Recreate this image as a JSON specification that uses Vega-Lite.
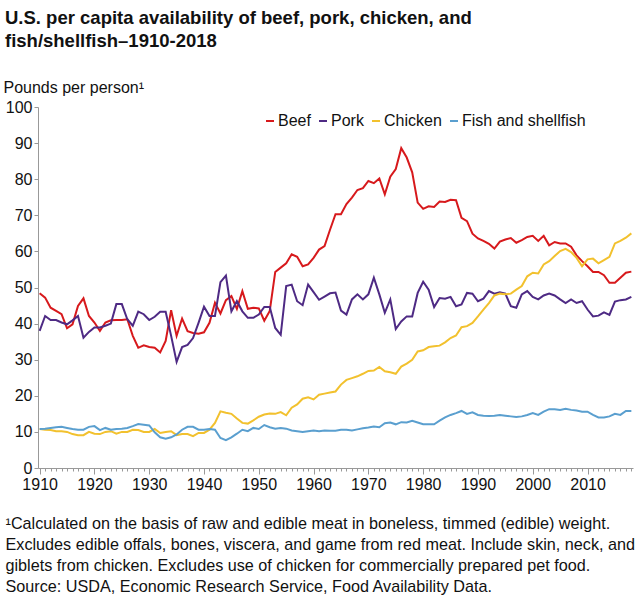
{
  "$schema": "https://vega.github.io/schema/vega-lite/v6.json",
  "autosize": "none",
  "width": 595,
  "height": 361,
  "padding": {"left": 38, "top": 107, "right": 7, "bottom": 142},
  "background": "white",
  "title": {
    "text": ["U.S. per capita availability of beef, pork, chicken, and", "fish/shellfish\u20131910-2018"],
    "anchor": "start",
    "frame": "group",
    "dx": -33,
    "offset": 29,
    "fontSize": 18.5,
    "fontWeight": "bold",
    "lineHeight": 23,
    "color": "#111"
  },
  "data": {
    "values": [
      {"year": 1910, "Beef": 48.4, "Pork": 38, "Chicken": 10.8, "Fish and shellfish": 10.8},
      {"year": 1911, "Beef": 47.2, "Pork": 42.1, "Chicken": 10.6, "Fish and shellfish": 10.9},
      {"year": 1912, "Beef": 44.4, "Pork": 41, "Chicken": 10.5, "Fish and shellfish": 11.1},
      {"year": 1913, "Beef": 43.5, "Pork": 41, "Chicken": 10.2, "Fish and shellfish": 11.3},
      {"year": 1914, "Beef": 42.6, "Pork": 40.3, "Chicken": 10.2, "Fish and shellfish": 11.4},
      {"year": 1915, "Beef": 38.7, "Pork": 39.8, "Chicken": 10, "Fish and shellfish": 11.1},
      {"year": 1916, "Beef": 39.8, "Pork": 40.9, "Chicken": 9.4, "Fish and shellfish": 10.8},
      {"year": 1917, "Beef": 44.9, "Pork": 42.1, "Chicken": 9.1, "Fish and shellfish": 10.6},
      {"year": 1918, "Beef": 47, "Pork": 36.1, "Chicken": 9.1, "Fish and shellfish": 10.6},
      {"year": 1919, "Beef": 42.1, "Pork": 37.7, "Chicken": 10, "Fish and shellfish": 11.4},
      {"year": 1920, "Beef": 40.3, "Pork": 38.9, "Chicken": 9.5, "Fish and shellfish": 11.6},
      {"year": 1921, "Beef": 38, "Pork": 38.9, "Chicken": 9.4, "Fish and shellfish": 10.5},
      {"year": 1922, "Beef": 40.3, "Pork": 39.4, "Chicken": 10, "Fish and shellfish": 11.1},
      {"year": 1923, "Beef": 40.9, "Pork": 40, "Chicken": 10.2, "Fish and shellfish": 10.6},
      {"year": 1924, "Beef": 41, "Pork": 45.4, "Chicken": 9.5, "Fish and shellfish": 10.8},
      {"year": 1925, "Beef": 41, "Pork": 45.4, "Chicken": 10, "Fish and shellfish": 10.9},
      {"year": 1926, "Beef": 41.2, "Pork": 41.2, "Chicken": 10, "Fish and shellfish": 11.1},
      {"year": 1927, "Beef": 36.6, "Pork": 39.4, "Chicken": 10.6, "Fish and shellfish": 11.6},
      {"year": 1928, "Beef": 33.3, "Pork": 43.3, "Chicken": 10.5, "Fish and shellfish": 12.2},
      {"year": 1929, "Beef": 34, "Pork": 42.6, "Chicken": 10, "Fish and shellfish": 12},
      {"year": 1930, "Beef": 33.5, "Pork": 41, "Chicken": 10, "Fish and shellfish": 11.8},
      {"year": 1931, "Beef": 33.3, "Pork": 41.9, "Chicken": 10.8, "Fish and shellfish": 9.9},
      {"year": 1932, "Beef": 32, "Pork": 43.3, "Chicken": 9.7, "Fish and shellfish": 8.5},
      {"year": 1933, "Beef": 35.2, "Pork": 43.3, "Chicken": 10, "Fish and shellfish": 8.1},
      {"year": 1934, "Beef": 43.7, "Pork": 36.6, "Chicken": 10.2, "Fish and shellfish": 8.5},
      {"year": 1935, "Beef": 36.6, "Pork": 29.4, "Chicken": 9.1, "Fish and shellfish": 9.3},
      {"year": 1936, "Beef": 41.4, "Pork": 33.5, "Chicken": 9.4, "Fish and shellfish": 10.6},
      {"year": 1937, "Beef": 37.9, "Pork": 34.1, "Chicken": 9.4, "Fish and shellfish": 11.4},
      {"year": 1938, "Beef": 37.4, "Pork": 36, "Chicken": 8.8, "Fish and shellfish": 11.4},
      {"year": 1939, "Beef": 37.2, "Pork": 40.2, "Chicken": 9.7, "Fish and shellfish": 10.6},
      {"year": 1940, "Beef": 37.6, "Pork": 44.7, "Chicken": 9.7, "Fish and shellfish": 10.6},
      {"year": 1941, "Beef": 40.2, "Pork": 42.1, "Chicken": 10.6, "Fish and shellfish": 10.8},
      {"year": 1942, "Beef": 45.8, "Pork": 42.1, "Chicken": 12.5, "Fish and shellfish": 10.6},
      {"year": 1943, "Beef": 42.8, "Pork": 51.5, "Chicken": 15.7, "Fish and shellfish": 8.3},
      {"year": 1944, "Beef": 46.5, "Pork": 53.3, "Chicken": 15.3, "Fish and shellfish": 7.7},
      {"year": 1945, "Beef": 47.6, "Pork": 43.4, "Chicken": 15, "Fish and shellfish": 8.5},
      {"year": 1946, "Beef": 44.1, "Pork": 46.2, "Chicken": 13.7, "Fish and shellfish": 9.5},
      {"year": 1947, "Beef": 49, "Pork": 43.4, "Chicken": 12.5, "Fish and shellfish": 10.6},
      {"year": 1948, "Beef": 44.1, "Pork": 41.6, "Chicken": 12.3, "Fish and shellfish": 10.2},
      {"year": 1949, "Beef": 44.4, "Pork": 41.6, "Chicken": 13.2, "Fish and shellfish": 11.1},
      {"year": 1950, "Beef": 44.2, "Pork": 42.5, "Chicken": 14.2, "Fish and shellfish": 10.8},
      {"year": 1951, "Beef": 40.8, "Pork": 44.6, "Chicken": 14.8, "Fish and shellfish": 11.9},
      {"year": 1952, "Beef": 43.5, "Pork": 44.6, "Chicken": 15.1, "Fish and shellfish": 11.3},
      {"year": 1953, "Beef": 54.3, "Pork": 38.8, "Chicken": 15, "Fish and shellfish": 10.9},
      {"year": 1954, "Beef": 55.5, "Pork": 36.9, "Chicken": 15.5, "Fish and shellfish": 11.1},
      {"year": 1955, "Beef": 56.7, "Pork": 50.4, "Chicken": 14.6, "Fish and shellfish": 10.9},
      {"year": 1956, "Beef": 59.2, "Pork": 50.8, "Chicken": 16.7, "Fish and shellfish": 10.4},
      {"year": 1957, "Beef": 58.5, "Pork": 46.2, "Chicken": 17.6, "Fish and shellfish": 10.2},
      {"year": 1958, "Beef": 55.9, "Pork": 45.1, "Chicken": 19.2, "Fish and shellfish": 10},
      {"year": 1959, "Beef": 56.4, "Pork": 50.8, "Chicken": 19.6, "Fish and shellfish": 10.2},
      {"year": 1960, "Beef": 58.2, "Pork": 48.7, "Chicken": 19, "Fish and shellfish": 10.4},
      {"year": 1961, "Beef": 60.5, "Pork": 46.6, "Chicken": 20.3, "Fish and shellfish": 10.2},
      {"year": 1962, "Beef": 61.5, "Pork": 47.5, "Chicken": 20.6, "Fish and shellfish": 10.4},
      {"year": 1963, "Beef": 66, "Pork": 48.4, "Chicken": 20.9, "Fish and shellfish": 10.3},
      {"year": 1964, "Beef": 70.3, "Pork": 48.6, "Chicken": 21.2, "Fish and shellfish": 10.3},
      {"year": 1965, "Beef": 70.3, "Pork": 43.6, "Chicken": 23.1, "Fish and shellfish": 10.6},
      {"year": 1966, "Beef": 73.1, "Pork": 42.5, "Chicken": 24.4, "Fish and shellfish": 10.6},
      {"year": 1967, "Beef": 74.9, "Pork": 46.7, "Chicken": 24.9, "Fish and shellfish": 10.4},
      {"year": 1968, "Beef": 77, "Pork": 48.1, "Chicken": 25.4, "Fish and shellfish": 10.7},
      {"year": 1969, "Beef": 77.5, "Pork": 46.7, "Chicken": 26.1, "Fish and shellfish": 11},
      {"year": 1970, "Beef": 79.5, "Pork": 48.1, "Chicken": 26.9, "Fish and shellfish": 11.2},
      {"year": 1971, "Beef": 78.9, "Pork": 52.7, "Chicken": 27, "Fish and shellfish": 11.5},
      {"year": 1972, "Beef": 80.2, "Pork": 48.1, "Chicken": 28, "Fish and shellfish": 11.3},
      {"year": 1973, "Beef": 75.8, "Pork": 43, "Chicken": 26.8, "Fish and shellfish": 12.4},
      {"year": 1974, "Beef": 80.7, "Pork": 46.7, "Chicken": 26.5, "Fish and shellfish": 12.6},
      {"year": 1975, "Beef": 82.8, "Pork": 38.5, "Chicken": 26.1, "Fish and shellfish": 12.1},
      {"year": 1976, "Beef": 88.6, "Pork": 40.6, "Chicken": 28.1, "Fish and shellfish": 12.7},
      {"year": 1977, "Beef": 86, "Pork": 42, "Chicken": 28.9, "Fish and shellfish": 12.6},
      {"year": 1978, "Beef": 81.9, "Pork": 42, "Chicken": 30, "Fish and shellfish": 13.1},
      {"year": 1979, "Beef": 73.5, "Pork": 48.5, "Chicken": 32.3, "Fish and shellfish": 12.6},
      {"year": 1980, "Beef": 71.8, "Pork": 51.6, "Chicken": 32.6, "Fish and shellfish": 12.1},
      {"year": 1981, "Beef": 72.5, "Pork": 49.4, "Chicken": 33.5, "Fish and shellfish": 12.1},
      {"year": 1982, "Beef": 72.3, "Pork": 44.6, "Chicken": 33.7, "Fish and shellfish": 12.1},
      {"year": 1983, "Beef": 73.8, "Pork": 47.1, "Chicken": 33.9, "Fish and shellfish": 13.1},
      {"year": 1984, "Beef": 73.7, "Pork": 46.9, "Chicken": 34.8, "Fish and shellfish": 14},
      {"year": 1985, "Beef": 74.3, "Pork": 47.4, "Chicken": 36, "Fish and shellfish": 14.7},
      {"year": 1986, "Beef": 74.2, "Pork": 44.8, "Chicken": 36.7, "Fish and shellfish": 15.2},
      {"year": 1987, "Beef": 69.3, "Pork": 45.3, "Chicken": 39, "Fish and shellfish": 15.8},
      {"year": 1988, "Beef": 68.4, "Pork": 48.5, "Chicken": 39.3, "Fish and shellfish": 15},
      {"year": 1989, "Beef": 64.9, "Pork": 48.3, "Chicken": 40.2, "Fish and shellfish": 15.4},
      {"year": 1990, "Beef": 63.6, "Pork": 46.2, "Chicken": 42, "Fish and shellfish": 14.7},
      {"year": 1991, "Beef": 62.9, "Pork": 46.9, "Chicken": 43.9, "Fish and shellfish": 14.5},
      {"year": 1992, "Beef": 62.1, "Pork": 49, "Chicken": 45.7, "Fish and shellfish": 14.4},
      {"year": 1993, "Beef": 60.8, "Pork": 48.3, "Chicken": 47.8, "Fish and shellfish": 14.5},
      {"year": 1994, "Beef": 62.7, "Pork": 48.7, "Chicken": 48.3, "Fish and shellfish": 14.7},
      {"year": 1995, "Beef": 63.3, "Pork": 48.3, "Chicken": 48.1, "Fish and shellfish": 14.5},
      {"year": 1996, "Beef": 63.7, "Pork": 44.8, "Chicken": 48.3, "Fish and shellfish": 14.3},
      {"year": 1997, "Beef": 62.4, "Pork": 44.4, "Chicken": 49.4, "Fish and shellfish": 14.1},
      {"year": 1998, "Beef": 63.1, "Pork": 48.1, "Chicken": 50.4, "Fish and shellfish": 14.3},
      {"year": 1999, "Beef": 64, "Pork": 49, "Chicken": 53.1, "Fish and shellfish": 14.7},
      {"year": 2000, "Beef": 64.3, "Pork": 47.4, "Chicken": 54.1, "Fish and shellfish": 15.2},
      {"year": 2001, "Beef": 62.9, "Pork": 46.7, "Chicken": 53.9, "Fish and shellfish": 14.7},
      {"year": 2002, "Beef": 64.3, "Pork": 47.8, "Chicken": 56.4, "Fish and shellfish": 15.6},
      {"year": 2003, "Beef": 61.7, "Pork": 48.3, "Chicken": 57.3, "Fish and shellfish": 16.3},
      {"year": 2004, "Beef": 62.6, "Pork": 47.8, "Chicken": 58.7, "Fish and shellfish": 16.3},
      {"year": 2005, "Beef": 62.2, "Pork": 46.7, "Chicken": 60.1, "Fish and shellfish": 16.1},
      {"year": 2006, "Beef": 62.2, "Pork": 45.7, "Chicken": 60.7, "Fish and shellfish": 16.4},
      {"year": 2007, "Beef": 61.3, "Pork": 46.7, "Chicken": 59.8, "Fish and shellfish": 16.1},
      {"year": 2008, "Beef": 58.9, "Pork": 45.7, "Chicken": 58.2, "Fish and shellfish": 15.9},
      {"year": 2009, "Beef": 57.3, "Pork": 46.2, "Chicken": 55.9, "Fish and shellfish": 15.6},
      {"year": 2010, "Beef": 55.9, "Pork": 43.9, "Chicken": 57.8, "Fish and shellfish": 15.6},
      {"year": 2011, "Beef": 54.3, "Pork": 42, "Chicken": 58, "Fish and shellfish": 14.7},
      {"year": 2012, "Beef": 54.3, "Pork": 42.2, "Chicken": 56.7, "Fish and shellfish": 14},
      {"year": 2013, "Beef": 53.4, "Pork": 43.1, "Chicken": 57.6, "Fish and shellfish": 14},
      {"year": 2014, "Beef": 51.3, "Pork": 42.4, "Chicken": 58.5, "Fish and shellfish": 14.3},
      {"year": 2015, "Beef": 51.3, "Pork": 46.1, "Chicken": 62.2, "Fish and shellfish": 15},
      {"year": 2016, "Beef": 52.7, "Pork": 46.5, "Chicken": 62.9, "Fish and shellfish": 14.7},
      {"year": 2017, "Beef": 54.1, "Pork": 46.7, "Chicken": 63.8, "Fish and shellfish": 15.8},
      {"year": 2018, "Beef": 54.4, "Pork": 47.4, "Chicken": 65, "Fish and shellfish": 15.8}
    ]
  },
  "transform": [
    {"fold": ["Beef", "Pork", "Chicken", "Fish and shellfish"], "as": ["meat", "lbs"]}
  ],
  "mark": {"type": "line", "strokeWidth": 2},
  "encoding": {
    "x": {
      "field": "year",
      "type": "quantitative",
      "scale": {"domain": [1909.7, 2018.3], "nice": false, "zero": false},
      "axis": {
        "title": [
          "\u00b9Calculated on the basis of raw and edible meat in boneless, timmed (edible) weight.",
          "Excludes edible offals, bones, viscera, and game from red meat. Include skin, neck, and",
          "giblets from chicken. Excludes use of chicken for commercially prepared pet food.",
          "Source: USDA, Economic Research Service, Food Availability Data."
        ],
        "titleX": -33,
        "titleY": 60,
        "titleAlign": "left",
        "titleBaseline": "alphabetic",
        "titleFontSize": 16.2,
        "titleFontWeight": "normal",
        "titleLineHeight": 21,
        "titleColor": "#111",
        "tickCount": 110,
        "format": "d",
        "labelExpr": "datum.value % 10 === 0 ? datum.label : ''",
        "labelOverlap": false,
        "labelFlush": false,
        "labelFontSize": 16,
        "labelColor": "#111",
        "labelPadding": 2,
        "tickSize": {"condition": {"test": "datum.value % 10 === 0", "value": 6}, "value": 3},
        "tickColor": "#999",
        "domainColor": "#999",
        "grid": false
      }
    },
    "y": {
      "field": "lbs",
      "type": "quantitative",
      "scale": {"domain": [0, 100], "nice": false},
      "axis": {
        "title": "Pounds per person\u00b9",
        "titleAngle": 0,
        "titleX": -35,
        "titleY": -15,
        "titleAlign": "left",
        "titleBaseline": "alphabetic",
        "titleFontSize": 16,
        "titleFontWeight": "normal",
        "titleColor": "#111",
        "values": [0, 10, 20, 30, 40, 50, 60, 70, 80, 90, 100],
        "labelFontSize": 16,
        "labelColor": "#111",
        "labelPadding": 2,
        "tickSize": 4,
        "tickColor": "#999",
        "domainColor": "#999",
        "grid": false
      }
    },
    "color": {
      "field": "meat",
      "type": "nominal",
      "sort": ["Beef", "Pork", "Chicken", "Fish and shellfish"],
      "scale": {
        "domain": ["Beef", "Pork", "Chicken", "Fish and shellfish"],
        "range": ["#d7191c", "#4e2a84", "#f2c12e", "#5a9fcf"]
      },
      "legend": {
        "title": null,
        "orient": "none",
        "legendX": 224,
        "legendY": 6,
        "direction": "horizontal",
        "symbolType": "stroke",
        "symbolSize": 64,
        "symbolStrokeWidth": 2,
        "labelFontSize": 16,
        "labelColor": "#111",
        "labelOffset": 0,
        "columnPadding": 4
      }
    }
  },
  "config": {
    "font": "Liberation Sans",
    "view": {"stroke": null}
  }
}
